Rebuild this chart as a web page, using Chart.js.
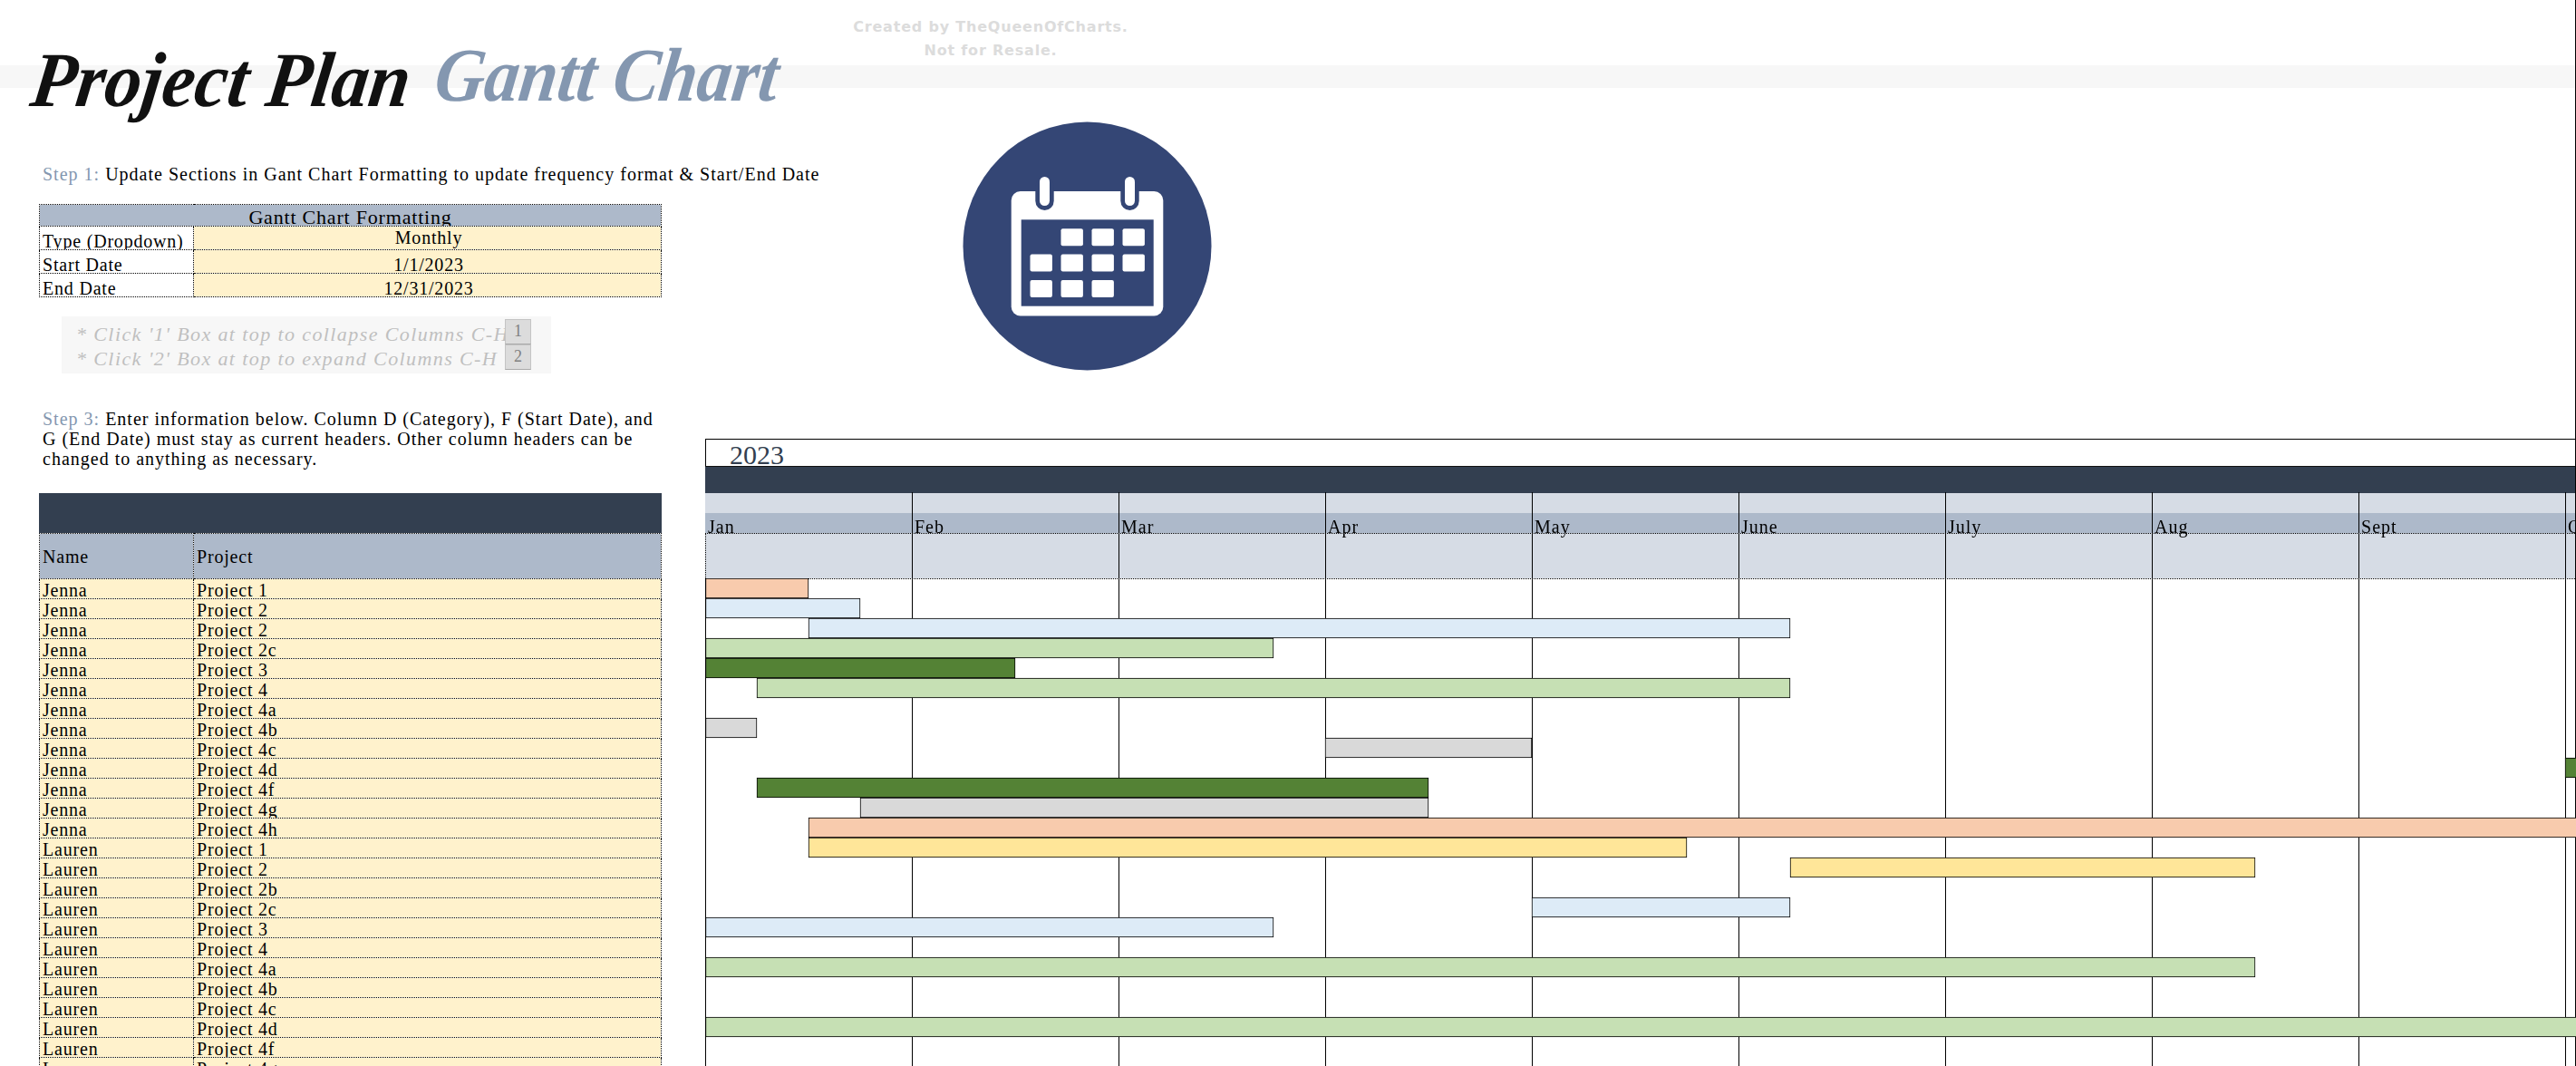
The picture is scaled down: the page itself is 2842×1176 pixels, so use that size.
<!DOCTYPE html>
<html>
<head>
<meta charset="utf-8">
<title>Project Plan Gantt Chart</title>
<script src="https://cdn.jsdelivr.net/npm/chart.js@4/dist/chart.umd.min.js"></script>
<style>
html, body { margin: 0; padding: 0; background: #fff; }
#page { position: relative; width: 2842px; height: 1176px; overflow: hidden; font-family: "Liberation Serif", serif; font-size: 20px; color: #000; letter-spacing: 1px; }
#page div, #page svg, #page canvas, #page table { position: absolute; }
.t { white-space: nowrap; line-height: 22px; }
.step { color: #8497B0; }
.title { font-style: italic; font-weight: bold; white-space: nowrap; letter-spacing: 0; transform-origin: left top; }
.dots { border-top: 1px dotted #000; height: 0; }
table { border-collapse: collapse; table-layout: fixed; letter-spacing: .8px; }
td { padding: 0 0 0 3px; border: 1px dotted #000; vertical-align: bottom; line-height: 18px; height: 21px; overflow: hidden; white-space: nowrap; }
.cream { background: #FFF2CC; }
.head td { background: #ADB9CA; height: 49px; vertical-align: middle; }
.note { font-style: italic; font-size: 22px; color: #bfbfbf; letter-spacing: 1.4px; }
.btn { background: #dcdcdc; border: 1px solid #c4c4c4; border-bottom-color: #a9a9a9; width: 27px; height: 26px; text-align: center; line-height: 24px; color: #808080; font-size: 18px; letter-spacing: 0; }
.mark { left: 941px; width: 304px; text-align: center; font-family: "DejaVu Sans"; font-weight: bold; font-size: 16px; color: #dcdcdc; letter-spacing: .8px; }
</style>
</head>
<body>
<div id="page">
  <!-- top strip -->
  <div style="left:0;top:72px;width:2842px;height:25px;background:#f7f7f7"></div>
  <div style="left:2841px;top:0;width:1px;height:1176px;background:#000"></div>
  <div class="t mark" style="top:19px">Created by TheQueenOfCharts.</div>
  <div class="t mark" style="top:45px">Not for Resale.</div>

  <div class="title" style="left:42px;top:38px;font-size:86px;color:#111;transform:scaleX(.945) skewX(-8deg)">Project Plan</div>
  <div class="title" style="left:487px;top:34px;font-size:84px;color:#8497B0;transform:scaleX(.905) skewX(-8deg)">Gantt Chart</div>

  <div class="t" style="left:47px;top:181px"><span class="step">Step 1:</span> Update Sections in Gant Chart Formatting to update frequency format &amp; Start/End Date</div>

  <!-- formatting box -->
  <table style="left:43px;top:225px;width:687px">
    <colgroup><col style="width:170px"><col></colgroup>
    <tr><td colspan="2" style="background:#ADB9CA;text-align:center;height:23px;font-size:22px;padding:0">Gantt Chart Formatting</td></tr>
    <tr><td style="height:25px">Type (Dropdown)</td><td class="cream" style="text-align:center;vertical-align:top;padding-top:3px;height:22px">Monthly</td></tr>
    <tr><td style="height:25px">Start Date</td><td class="cream" style="text-align:center">1/1/2023</td></tr>
    <tr><td style="height:25px">End Date</td><td class="cream" style="text-align:center">12/31/2023</td></tr>
  </table>

  <div style="left:68px;top:349px;width:540px;height:63px;background:#f7f7f7"></div>
  <div class="t note" style="left:84px;top:358px">* Click '1' Box at top to collapse Columns C-H</div>
  <div class="t note" style="left:84px;top:385px">* Click '2' Box at top to expand Columns C-H</div>
  <div class="btn" style="left:557px;top:352px">1</div>
  <div class="btn" style="left:557px;top:380px">2</div>

  <div class="t" style="left:47px;top:451px"><span class="step">Step 3:</span> Enter information below. Column D (Category), F (Start Date), and</div>
  <div class="t" style="left:47px;top:473px">G (End Date) must stay as current headers. Other column headers can be</div>
  <div class="t" style="left:47px;top:495px">changed to anything as necessary.</div>

  <!-- calendar icon -->
  <svg style="left:1000px;top:100px" width="400" height="340" viewBox="0 0 400 340">
    <circle cx="199.5" cy="171.5" r="137" fill="#344675"/>
    <rect x="115.7" y="111" width="167.6" height="137.5" rx="10" fill="#fff"/>
    <rect x="126.7" y="142.3" width="146" height="95.4" fill="#344675"/>
    <rect x="142.3" y="95" width="20.4" height="37" rx="10.2" fill="#344675"/>
    <rect x="236.3" y="95" width="20.4" height="37" rx="10.2" fill="#344675"/>
    <rect x="147" y="95" width="11" height="32" rx="5.5" fill="#fff"/>
    <rect x="241" y="95" width="11" height="32" rx="5.5" fill="#fff"/>
    <g fill="#fff">
      <rect x="170.5" y="152.3" width="24.4" height="19" rx="2"/><rect x="204.5" y="152.3" width="24.4" height="19" rx="2"/><rect x="238.5" y="152.3" width="24.4" height="19" rx="2"/>
      <rect x="136.5" y="180.5" width="24.4" height="19" rx="2"/><rect x="170.5" y="180.5" width="24.4" height="19" rx="2"/><rect x="204.5" y="180.5" width="24.4" height="19" rx="2"/><rect x="238.5" y="180.5" width="24.4" height="19" rx="2"/>
      <rect x="136.5" y="209" width="24.4" height="19" rx="2"/><rect x="170.5" y="209" width="24.4" height="19" rx="2"/><rect x="204.5" y="209" width="24.4" height="19" rx="2"/>
    </g>
  </svg>

  <!-- left table -->
  <div style="left:43px;top:544px;width:687px;height:44px;background:#333F50"></div>
  <table id="projects" style="left:43px;top:588px;width:687px">
    <colgroup><col style="width:170px"><col></colgroup>
  </table>

  <!-- gantt header bands, the canvas sits on top of them -->
  <div style="left:778px;top:484px;width:2064px;height:30px;border-top:1px solid #000;box-sizing:border-box"></div>
  <div style="left:778px;top:484px;width:1px;height:30px;background:#000"></div>
  <div style="left:778px;top:514px;width:2063px;height:30px;background:#333F50;border-top:1px solid #111;box-sizing:border-box"></div>
  <div style="left:778px;top:544px;width:2063px;height:22px;background:#D6DCE5"></div>
  <div style="left:778px;top:566px;width:2063px;height:22px;background:#ADB9CA"></div>
  <div style="left:778px;top:588px;width:2063px;height:50px;background:#D6DCE5"></div>
  <div class="dots" style="left:778px;top:588px;width:2063px"></div>
  <div class="dots" style="left:778px;top:638px;width:2063px"></div>
  <div style="left:778px;top:588px;height:50px;border-left:1px dotted #000"></div>
  <div class="t" style="left:805px;top:488px;font-size:30px;line-height:28px;color:#333F50;letter-spacing:0">2023</div>

  <canvas id="gantt" style="left:770px;top:484px;width:2072px;height:704px" width="2072" height="704"></canvas>
</div>

<script>
"use strict";

// table rows, same order as the bars
var names = ['Jenna','Jenna','Jenna','Jenna','Jenna','Jenna','Jenna','Jenna','Jenna','Jenna','Jenna','Jenna','Jenna',
	'Lauren','Lauren','Lauren','Lauren','Lauren','Lauren','Lauren','Lauren','Lauren','Lauren','Lauren','Lauren'];
var projects = ['Project 1','Project 2','Project 2','Project 2c','Project 3','Project 4','Project 4a','Project 4b','Project 4c','Project 4d','Project 4f','Project 4g','Project 4h',
	'Project 1','Project 2','Project 2b','Project 2c','Project 3','Project 4','Project 4a','Project 4b','Project 4c','Project 4d','Project 4f','Project 4g'];

var months = ['Jan','Feb','Mar','Apr','May','June','July','Aug','Sept','Oct','Nov','Dec'];

// start and end of each bar in months since 1 Jan, null = nothing planned on that row
var startMonth = [0, 0, 0.5, 0, 0, 0.25, null, 0, 3, 9, 0.25, 0.75, 0.5, 0.5, 5.25, null, 4, 0, null, 0, null, null, 0, null, null];
var endMonth = [0.5, 0.75, 5.25, 2.75, 1.5, 5.25, null, 0.25, 4, 10, 3.5, 3.5, 10.5, 4.75, 7.5, null, 5.25, 2.75, null, 7.5, null, null, 11, null, null];
var barStatus = ['orange','blue','blue','green','dark','green',null,'grey','grey','dark','dark','grey','orange','yellow','yellow',null,'blue','blue',null,'green',null,null,'green',null,null];

var statusColors = {
	orange: '#F8CBAD',
	blue: '#DDEBF7',
	green: '#C6E0B4',
	dark: '#548235',
	grey: '#D9D9D9',
	yellow: '#FFE699'
};

// visible part of the timeline, the sheet is cut off just after Oct starts
var visibleMonths = 9.0526;

var rows = '<tr class="head"><td>Name</td><td>Project</td></tr>';
for (var i = 0; i < names.length; i++) {
	rows += '<tr class="cream"><td>' + names[i] + '</td><td>' + projects[i] + '</td></tr>';
}
document.getElementById('projects').insertAdjacentHTML('beforeend', rows);

var spans = startMonth.map(function (s, i) {
	return s === null ? null : [s, endMonth[i]];
});

new Chart('gantt', {
	type: 'bar',
	data: {
		labels: projects.map(function (p, i) { return names[i] + ' ' + p; }),
		datasets: [{
			data: spans,
			backgroundColor: barStatus.map(function (s) { return s ? statusColors[s] : 'transparent'; }),
			borderColor: '#000',
			borderWidth: 1,
			borderSkipped: false,
			barPercentage: 1,
			categoryPercentage: 1
		}]
	},
	options: {
		indexAxis: 'y',
		responsive: false,
		animation: false,
		devicePixelRatio: 1,
		layout: { padding: { left: 8, right: 0, top: 0, bottom: 0 } },
		plugins: { legend: { display: false }, tooltip: { enabled: false } },
		scales: {
			x: {
				position: 'top',
				min: 0,
				max: visibleMonths,
				afterFit: function (scale) { scale.height = 154; },
				grid: {
					color: '#000',
					lineWidth: 1,
					tickLength: 95,
					tickColor: function (ctx) { return ctx.tick && ctx.tick.value === 0 ? 'transparent' : '#000'; }
				},
				border: { display: false },
				ticks: {
					stepSize: 1,
					autoSkip: false,
					includeBounds: false,
					maxRotation: 0,
					align: 'start',
					labelOffset: 3,
					padding: -52,
					color: '#000',
					font: { family: 'Liberation Serif', size: 20 },
					callback: function (value) { return months[value]; }
				}
			},
			y: {
				display: false,
				grid: { display: false }
			}
		}
	}
});
</script>
</body>
</html>
